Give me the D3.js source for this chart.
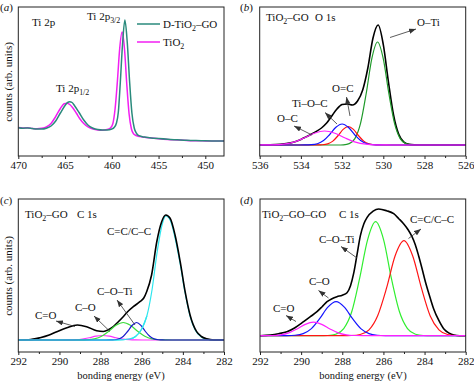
<!DOCTYPE html>
<html><head><meta charset="utf-8">
<script src="https://cdn.jsdelivr.net/npm/d3@7"></script>
<style>body{margin:0;background:#fff}svg{display:block}</style>
</head><body><svg id="chart" width="474" height="381"></svg>
<script>
// ---------- DATA ----------
// Panel (a) Ti 2p : [binding energy, counts]
const ti2p_DTiO2GO = [[470,28.3],[469.5,27.8],[469,28.0],[468.5,27.4],[468,27.0],[467.5,27.0],[467,27.8],[466.5,30],[466,35],[465.5,43],[465,50.5],[464.75,53.3],[464.5,54.3],[464.25,53.5],[464,50.5],[463.5,43.5],[463,36],[462.5,30.5],[462,27.8],[461.5,26.5],[461,26],[460.5,26],[460,27],[459.75,28.5],[459.5,33],[459.3,44],[459.1,72],[458.85,112],[458.6,136],[458.35,114],[458.1,75],[457.85,43],[457.6,28],[457.35,22.5],[457.1,20.3],[456.5,18.9],[456,18.3],[455,17.4],[454,16.7],[453,16.2],[452,15.7],[451,15.4],[450,15.2],[449,15],[448,14.9]];
const ti2p_TiO2 = [[470,28.5],[469.5,28.0],[469,28.2],[468.5,27.6],[468,27.3],[467.5,27.7],[467,29.0],[466.5,32.5],[466,39.5],[465.5,47.5],[465.1,52.2],[464.8,52.8],[464.5,51.5],[464.2,48.5],[463.8,43],[463.4,37],[463,32.5],[462.5,28.8],[462,27],[461.5,26.1],[461,25.8],[460.5,26.4],[460.15,28],[459.9,32],[459.65,47],[459.4,75],[459.15,108],[458.9,124],[458.65,108],[458.4,72],[458.15,42],[457.9,27],[457.65,22],[457.4,20.5],[457,19.4],[456.5,18.7],[456,18.2],[455,17.3],[454,16.6],[453,16.1],[452,15.6],[451,15.3],[450,15.1],[449,15],[448,14.9]];
// Panel (b) O 1s
const o1s_total = [[536,0],[535.5,0.1],[535,0.6],[534.5,2.1],[534.25,3.6],[534,5.6],[533.75,8.1],[533.5,10.7],[533.25,13.6],[533,17],[532.75,21.9],[532.5,29],[532.25,36],[532,40.5],[531.75,41],[531.5,40],[531.25,44],[531,55],[530.75,77],[530.5,107],[530.25,120],[530,100.4],[529.75,63],[529.5,29.8],[529.25,10.6],[529,2.8],[528.75,0.6],[528.5,0.1],[528.25,0],[526,0]];
const o1s_OTi = [[536,0],[532.205,0],[531.93,0.2],[531.655,1.35],[531.38,6.4],[531.105,21.6],[530.83,51.5],[530.555,86.6],[530.28,103],[530.005,86.6],[529.73,51.5],[529.455,21.6],[529.18,6.4],[528.905,1.35],[528.63,0.2],[528.355,0],[526,0]];
const o1s_OeqC = [[536,0],[533.45,0],[533.2,0.04],[532.95,0.24],[532.7,1.16],[532.45,3.9],[532.2,9.25],[531.95,15.6],[531.7,18.5],[531.45,15.6],[531.2,9.25],[530.95,3.9],[530.7,1.16],[530.45,0.24],[530.2,0.04],[529.95,0],[526,0]];
const o1s_TiOC = [[536,0],[534.1,0],[533.8,0.04],[533.5,0.28],[533.2,1.3],[532.9,4.4],[532.6,10.5],[532.3,17.7],[532.0,21],[531.7,17.7],[531.4,10.5],[531.1,4.4],[530.8,1.3],[530.5,0.28],[530.2,0.04],[529.9,0],[526,0]];
const o1s_OC = [[536,0],[535.85,0.03],[535.35,0.18],[534.85,0.875],[534.35,2.94],[533.85,7],[533.35,11.8],[532.85,14],[532.35,11.8],[531.85,7],[531.35,2.94],[530.85,0.875],[530.35,0.18],[529.85,0.03],[529.35,0],[526,0]];
// Panel (c) TiO2-GO C 1s
const c1sC_total = [[292,0],[291.5,0.2],[290.94,2.3],[290.5,5],[290.13,8.3],[289.64,12.3],[289.13,15],[288.68,13.3],[288.19,9.3],[287.87,8.5],[287.6,10.5],[287.38,13.5],[287.15,18],[286.9,23.3],[286.65,29],[286.41,33.3],[286.09,38.3],[285.9,42],[285.76,48.3],[285.52,65],[285.27,98],[285.03,118.3],[284.83,125],[284.62,121.7],[284.38,105],[284.13,78.3],[283.89,48.3],[283.65,25],[283.33,8.3],[283.1,3.5],[282.84,1.2],[282.5,0],[282,0]];
const c1sC_CC = [[292,0],[287.2,0],[286.6,1],[286.3,3.5],[286.0,11],[285.75,24],[285.5,50],[285.25,88],[285.0,116],[284.83,124],[284.6,119],[284.4,104],[284.13,76],[283.89,47],[283.65,24],[283.4,10],[283.1,3],[282.8,0.5],[282.5,0],[282,0]];
const c1sC_COTi = [[292,0],[287.74,0],[287.53,0.03],[287.31,0.23],[287.1,1.1],[286.89,3.7],[286.68,8.75],[286.46,14.7],[286.25,17.5],[286.04,14.7],[285.83,8.75],[285.61,3.7],[285.4,1.1],[285.19,0.23],[284.98,0.03],[284.76,0],[282,0]];
const c1sC_CO = [[292,0],[289.35,0],[289.0,0.03],[288.65,0.23],[288.3,1.1],[287.95,3.7],[287.6,8.75],[287.25,14.7],[286.9,17.5],[286.55,14.7],[286.2,8.75],[285.85,3.7],[285.5,1.1],[285.15,0.23],[284.8,0.03],[284.45,0],[282,0]];
const c1sC_CeqO = [[292,0],[290.18,0],[289.85,0.01],[289.53,0.06],[289.2,0.28],[288.88,0.95],[288.55,2.25],[288.23,3.8],[287.9,4.5],[287.58,3.8],[287.25,2.25],[286.93,0.95],[286.6,0.28],[286.28,0.06],[285.95,0.01],[285.63,0],[282,0]];
// Panel (d) TiO2-GO-GO C 1s
const c1sD_total = [[292,0],[291.5,0.7],[291.1,2],[290.69,4],[290.3,8],[289.88,14],[289.55,19],[289.23,24],[288.98,29],[288.74,34],[288.5,37],[288.26,39],[288.0,40.5],[287.77,43],[287.6,50],[287.45,62],[287.3,79],[287.12,100],[286.95,112],[286.8,118],[286.5,124.5],[286.23,126.7],[285.85,125],[285.5,122],[285.25,117],[285.02,112],[284.8,106],[284.61,99],[284.45,91],[284.29,80],[284.12,67],[283.96,54],[283.76,40],[283.56,27],[283.3,15],[283.07,7],[282.8,2.5],[282.58,0.7],[282.3,0],[282,0]];
const c1sD_CC = [[292,0],[287.98,0],[287.55,0.19],[287.13,1.24],[286.7,5.9],[286.28,20],[285.85,47.5],[285.43,79.9],[285.0,95],[284.58,79.9],[284.15,47.5],[283.73,20],[283.3,5.9],[282.88,1.24],[282.45,0.19],[282.03,0],[282,0]];
const c1sD_COTi = [[292,0],[289.09,0],[288.71,0.22],[288.32,1.5],[287.93,7.1],[287.54,23.9],[287.16,57],[286.77,95.9],[286.38,114],[285.99,95.9],[285.61,57],[285.22,23.9],[284.83,7.1],[284.44,1.5],[284.06,0.22],[283.67,0],[282,0]];
const c1sD_CO = [[292,0],[291.1,0],[290.7,0.07],[290.3,0.45],[289.9,2.1],[289.5,7.1],[289.1,17],[288.7,28.6],[288.3,34],[287.9,28.6],[287.5,17],[287.1,7.1],[286.7,2.1],[286.3,0.45],[285.9,0.07],[285.5,0],[282,0]];
const c1sD_CeqO = [[292,0.01],[291.8,0.03],[291.4,0.18],[291.0,0.84],[290.6,2.84],[290.2,6.75],[289.8,11.35],[289.4,13.5],[289.0,11.35],[288.6,6.75],[288.2,2.84],[287.8,0.84],[287.4,0.18],[287.0,0.03],[286.6,0],[282,0]];
// axis ticks
const ticksA = [470,465,460,455,450];
const minorA = [467.5,462.5,457.5,452.5];
const ticksB = [536,534,532,530,528,526];
const minorB = [535,533,531,529,527];
const ticksCD = [292,290,288,286,284,282];
const minorCD = [291,289,287,285,283];

// ---------- DRAWING ----------
const svg = d3.select("#chart");
const FONT = "'Liberation Serif','Times New Roman',serif";
svg.append("rect").attr("width",474).attr("height",381).attr("fill","#fff");

const defs = svg.append("defs");
defs.append("marker").attr("id","arr").attr("viewBox","0 0 8 6")
  .attr("refX",8).attr("refY",3).attr("markerWidth",7).attr("markerHeight",5.5)
  .attr("markerUnits","userSpaceOnUse").attr("orient","auto")
  .append("path").attr("d","M0,0 L8,3 L0,6 Z").attr("fill","#333");

function rich(g, x, y, parts, size, anchor) {
  const t = g.append("text").attr("x",x).attr("y",y).attr("font-family",FONT)
    .attr("font-size",size).attr("fill","#111").attr("text-anchor",anchor||"start");
  let off = 0;
  parts.forEach(p => {
    if (typeof p === "string") {
      t.append("tspan").attr("dy",-off).text(p); off = 0;
    } else if (p.sub !== undefined) {
      const d = size*0.3;
      t.append("tspan").attr("dy",d-off).attr("font-size",size*0.72).text(p.sub); off = d;
    } else if (p.it !== undefined) {
      t.append("tspan").attr("dy",-off).attr("font-style","italic").text(p.it); off = 0;
    }
  });
  return t;
}

function panel(cfg) {
  const g = svg.append("g");
  const x = d3.scaleLinear().domain(cfg.xd).range([cfg.x0, cfg.x1]);
  const y = d3.scaleLinear().domain(cfg.yd).range([cfg.yb, cfg.yt]);
  const id = "clip"+cfg.name;
  defs.append("clipPath").attr("id",id).append("rect")
    .attr("x",cfg.x0).attr("y",cfg.yt).attr("width",cfg.x1-cfg.x0).attr("height",cfg.yb-cfg.yt);
  const line = d3.line().x(d=>x(d[0])).y(d=>y(d[1])).curve(d3.curveMonotoneX);
  const pg = g.append("g").attr("clip-path",`url(#${id})`);
  cfg.series.forEach(s => {
    let data = s.data.slice().sort((a,b)=>b[0]-a[0]);
    if (s.from !== undefined) data = data.filter(d => d[0] >= s.from);
    pg.append("path").attr("d",line(data)).attr("fill","none")
      .attr("stroke",s.color).attr("stroke-width",s.w||1.2).attr("stroke-linejoin","round");
  });
  // frame
  g.append("rect").attr("x",cfg.x0).attr("y",cfg.yt).attr("width",cfg.x1-cfg.x0)
    .attr("height",cfg.yb-cfg.yt).attr("fill","none").attr("stroke","#222").attr("stroke-width",1);
  // axis
  const ax = g.append("g").attr("transform",`translate(0,${cfg.yb})`)
    .call(d3.axisBottom(x).tickValues(cfg.ticks).tickSize(3).tickPadding(2.5).tickFormat(d3.format("d")));
  ax.select(".domain").remove();
  ax.selectAll("line").attr("stroke","#222");
  ax.selectAll("text").attr("font-family",FONT).attr("font-size",11).attr("fill","#111");
  const mx = g.append("g").attr("transform",`translate(0,${cfg.yb})`)
    .call(d3.axisBottom(x).tickValues(cfg.minor).tickSize(2).tickFormat(""));
  mx.select(".domain").remove();
  mx.selectAll("line").attr("stroke","#222");
  return {g, x, y};
}

function arrow(g, x1,y1,x2,y2){
  g.append("line").attr("x1",x1).attr("y1",y1).attr("x2",x2).attr("y2",y2)
   .attr("stroke","#333").attr("stroke-width",0.8).attr("marker-end","url(#arr)");
}

// (a)
const pa = panel({name:"a", xd:[470,448], x0:18.3, x1:224, yd:[0,149], yb:156, yt:7,
  ticks:ticksA, minor:minorA,
  series:[{data:ti2p_TiO2,color:"#f21ff2",w:1.5},{data:ti2p_DTiO2GO,color:"#2a8a7c",w:1.5}]});
rich(pa.g, 0, 11, ["(",{it:"a"},")"], 11);
rich(pa.g, 32, 26, ["Ti 2p"], 11);
rich(pa.g, 87, 20, ["Ti 2p",{sub:"3/2"}], 11);
rich(pa.g, 56, 92, ["Ti 2p",{sub:"1/2"}], 11);
pa.g.append("line").attr("x1",137).attr("x2",160).attr("y1",24).attr("y2",24).attr("stroke","#2a8a7c").attr("stroke-width",1.5);
pa.g.append("line").attr("x1",137).attr("x2",160).attr("y1",42).attr("y2",42).attr("stroke","#f21ff2").attr("stroke-width",1.5);
rich(pa.g, 163, 28, ["D-TiO",{sub:"2"},"–GO"], 11);
rich(pa.g, 163, 46, ["TiO",{sub:"2"}], 11);
pa.g.append("text").attr("transform","translate(12,82) rotate(-90)").attr("text-anchor","middle")
  .attr("font-family",FONT).attr("font-size",11).attr("fill","#111").text("counts (arb. units)");

// (b)
const pb = panel({name:"b", xd:[536,526], x0:259.7, x1:465.7, yd:[-11,138], yb:156, yt:7,
  ticks:ticksB, minor:minorB,
  series:[{data:o1s_total,color:"#000",w:1.6},{data:o1s_OTi,color:"#1f9a2a"},
          {data:o1s_OeqC,color:"#ff1010"},{data:o1s_TiOC,color:"#1010ff"},{data:o1s_OC,color:"#ff20ff"}]});
rich(pb.g, 240, 11, ["(",{it:"b"},")"], 11);
rich(pb.g, 266, 21, ["TiO",{sub:"2"},"–GO"], 11);
rich(pb.g, 315, 21, ["O 1s"], 11);
rich(pb.g, 417, 26, ["O–Ti"], 11);
arrow(pb.g, 390, 37.5, 416, 29);
rich(pb.g, 332, 92, ["O=C"], 11);
arrow(pb.g, 350, 116, 346.5, 97);
rich(pb.g, 292, 107, ["Ti–O–C"], 11);
arrow(pb.g, 337, 124, 325, 112.5);
rich(pb.g, 277, 122, ["O–C"], 11);
arrow(pb.g, 312, 135, 294, 126);

// (c)
const pc = panel({name:"c", xd:[292,282], x0:18.3, x1:224, yd:[-12,141], yb:352, yt:199,
  ticks:ticksCD, minor:minorCD,
  series:[{data:c1sC_CC,color:"#2ee6ee"},{data:c1sC_total,color:"#000",w:1.6},{data:c1sC_CeqO,color:"#ff30ff"},
          {data:c1sC_CO,color:"#3ddc3d"},{data:c1sC_COTi,color:"#1a1acc"},
          {data:c1sC_CC,color:"#2ee6ee",from:285.6}]});
rich(pc.g, 0, 204, ["(",{it:"c"},")"], 11);
rich(pc.g, 25, 218, ["TiO",{sub:"2"},"–GO"], 11);
rich(pc.g, 77, 218, ["C 1s"], 11);
rich(pc.g, 107, 235, ["C=C/C–C"], 11);
rich(pc.g, 97, 295, ["C–O–Ti"], 11);
arrow(pc.g, 135, 325, 117, 300);
rich(pc.g, 75, 311, ["C–O"], 11);
arrow(pc.g, 110, 331.5, 94, 316);
rich(pc.g, 35, 319, ["C=O"], 11);
arrow(pc.g, 75, 326.5, 56, 321);
pc.g.append("text").attr("transform","translate(12,276) rotate(-90)").attr("text-anchor","middle")
  .attr("font-family",FONT).attr("font-size",11).attr("fill","#111").text("counts (arb. units)");
rich(pc.g, 121, 378.5, ["bonding energy (eV)"], 10.5, "middle");

// (d)
const pd = panel({name:"d", xd:[292,282], x0:260, x1:465.7, yd:[-16.3,136.7], yb:352, yt:199,
  ticks:ticksCD, minor:minorCD,
  series:[{data:c1sD_total,color:"#000",w:1.6},{data:c1sD_COTi,color:"#30ee30"},
          {data:c1sD_CC,color:"#ff1515"},{data:c1sD_CO,color:"#1515ff"},{data:c1sD_CeqO,color:"#ff20ff"}]});
rich(pd.g, 240, 204, ["(",{it:"d"},")"], 11);
rich(pd.g, 262, 218, ["TiO",{sub:"2"},"–GO–GO"], 11);
rich(pd.g, 339, 218, ["C 1s"], 11);
rich(pd.g, 410, 223, ["C=C/C–C"], 11);
arrow(pd.g, 408.5, 238.5, 421, 229);
rich(pd.g, 319, 243, ["C–O–Ti"], 11);
arrow(pd.g, 357, 258, 341, 246.5);
rich(pd.g, 309, 285, ["C–O"], 11);
arrow(pd.g, 328.5, 298, 318.5, 290.5);
rich(pd.g, 273, 312, ["C=O"], 11);
arrow(pd.g, 296, 321.5, 286, 315.5);
rich(pd.g, 363, 378.5, ["bonding energy (eV)"], 10.5, "middle");
</script></body></html>
